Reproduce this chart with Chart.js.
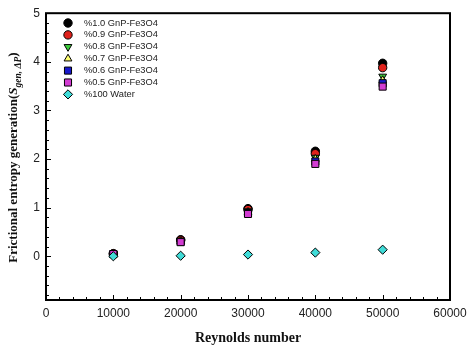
<!DOCTYPE html>
<html>
<head>
<meta charset="utf-8">
<script src="https://cdn.jsdelivr.net/npm/chart.js@4/dist/chart.umd.min.js"></script>
<style>
  html, body { margin: 0; padding: 0; background: #fff; }
  #wrap { width: 474px; height: 348px; }
</style>
</head>
<body>
<div id="wrap"><canvas id="entropyChart"></canvas></div>
<script>
// Reynolds numbers and frictional entropy generation per fluid
const reynolds = [10000, 20000, 30000, 40000, 50000];
const gnp10 = [0.055, 0.34, 0.98, 2.16, 3.97];
const gnp09 = [0.05, 0.33, 0.96, 2.11, 3.88];
const gnp08 = [0.05, 0.32, 0.93, 2.03, 3.70];
const gnp07 = [0.05, 0.31, 0.91, 2.00, 3.62];
const gnp06 = [0.045, 0.30, 0.89, 1.95, 3.56];
const gnp05 = [0.045, 0.29, 0.87, 1.90, 3.49];
const water = [0.0, 0.01, 0.035, 0.075, 0.135];

const seriesLabels = ['%1.0 GnP-Fe3O4', '%0.9 GnP-Fe3O4', '%0.8 GnP-Fe3O4', '%0.7 GnP-Fe3O4',
                      '%0.6 GnP-Fe3O4', '%0.5 GnP-Fe3O4', '%100 Water'];
const xTickLabels = [0, 10000, 20000, 30000, 40000, 50000, 60000];
const yTickLabels = [0, 1, 2, 3, 4, 5];

const allSeries = [gnp10, gnp09, gnp08, gnp07, gnp06, gnp05, water];
const styles = [
    { bg: '#000000', shape: 'circle', r: 4.2, rot: 0 },
    { bg: '#e0221c', shape: 'circle', r: 4.2, rot: 0 },
    { bg: '#3ccc3c', shape: 'triangle', r: 4.5, rot: 180 },
    { bg: '#ffff70', shape: 'triangle', r: 4.5, rot: 0 },
    { bg: '#1818cc', shape: 'rect', r: 5, rot: 0 },
    { bg: '#d23cd2', shape: 'rect', r: 5, rot: 0 },
    { bg: '#40dcd8', shape: 'rectRot', r: 4.6, rot: 0 }
];

const datasets = allSeries.map(function(vals, i) {
    return {
        label: seriesLabels[i],
        data: reynolds.map(function(x, k) { return { x: x, y: vals[k] }; }),
        backgroundColor: styles[i].bg,
        borderColor: '#000',
        borderWidth: 1,
        pointStyle: styles[i].shape,
        pointRadius: styles[i].r,
        pointRotation: styles[i].rot,
        order: allSeries.length - i  // later series drawn on top
    };
});

// frame + inward tick marks
const framePlugin = {
    id: 'frame',
    beforeDatasetsDraw(chart) {
        const ctx = chart.ctx, a = chart.chartArea;
        const xs = chart.scales.x, ys = chart.scales.y;
        ctx.save();
        ctx.strokeStyle = '#000';
        ctx.lineWidth = 1;
        xs.ticks.forEach(function(t) {
            const px = Math.round(xs.getPixelForValue(t.value)) + 0.5;
            const len = xTickLabels.includes(t.value) ? 5 : 3;
            ctx.beginPath(); ctx.moveTo(px, a.bottom); ctx.lineTo(px, a.bottom - len); ctx.stroke();
        });
        ys.ticks.forEach(function(t) {
            const py = Math.round(ys.getPixelForValue(t.value)) + 0.5;
            const len = yTickLabels.includes(t.value) ? 5 : 3;
            ctx.beginPath(); ctx.moveTo(a.left, py); ctx.lineTo(a.left + len, py); ctx.stroke();
        });
        ctx.lineWidth = 2;
        ctx.strokeRect(a.left, a.top, a.right - a.left, a.bottom - a.top);
        ctx.restore();
    }
};

// legend inside the plot, top left
const legendPlugin = {
    id: 'insideLegend',
    afterDatasetsDraw(chart) {
        const ctx = chart.ctx;
        ctx.save();
        ctx.font = '9.3px "Liberation Sans", Arial, sans-serif';
        ctx.textBaseline = 'middle';
        seriesLabels.forEach(function(lbl, i) {
            const y = 23 + i * 11.9;
            ctx.fillStyle = styles[i].bg;
            ctx.strokeStyle = '#000';
            ctx.lineWidth = 1;
            Chart.helpers.drawPoint(ctx, {
                pointStyle: styles[i].shape, radius: styles[i].r,
                rotation: styles[i].rot, borderWidth: 1
            }, 68, y);
            ctx.fillStyle = '#222';
            ctx.fillText(lbl, 84, y);
        });
        ctx.restore();
    }
};

// y title with subscript
const yTitlePlugin = {
    id: 'yTitle',
    afterDraw(chart) {
        const ctx = chart.ctx, a = chart.chartArea;
        const serif = '"Liberation Serif", "Times New Roman", serif';
        const parts = [
            { t: 'Frictional entropy generation(', f: 'bold 13px ' + serif, dy: 0 },
            { t: 'S', f: 'italic bold 13px ' + serif, dy: 0 },
            { t: 'gen, \u0394P', f: 'italic bold 9.5px ' + serif, dy: 4 },
            { t: ')', f: 'bold 13px ' + serif, dy: 0 }
        ];
        ctx.save();
        let total = 0;
        parts.forEach(function(p) { ctx.font = p.f; p.w = ctx.measureText(p.t).width; total += p.w; });
        ctx.translate(17, (a.top + a.bottom) / 2 + 1);
        ctx.rotate(-Math.PI / 2);
        ctx.fillStyle = '#111';
        ctx.textBaseline = 'alphabetic';
        let x = -total / 2;
        parts.forEach(function(p) { ctx.font = p.f; ctx.fillText(p.t, x, p.dy); x += p.w; });
        ctx.restore();
    }
};

const tickFont = { family: '"Liberation Sans", Arial, sans-serif', size: 12 };

new Chart(document.getElementById('entropyChart'), {
    type: 'scatter',
    data: { datasets: datasets },
    plugins: [framePlugin, legendPlugin, yTitlePlugin],
    options: {
        responsive: true,
        maintainAspectRatio: false,
        animation: false,
        layout: { padding: { top: 10, right: 24, left: 0, bottom: 0 } },
        plugins: { legend: { display: false }, tooltip: { enabled: false } },
        scales: {
            x: {
                type: 'linear',
                min: 0, max: 60000,
                grid: { display: false, drawTicks: false, tickLength: 0 },
                border: { display: false },
                ticks: {
                    stepSize: 2000, autoSkip: false, maxRotation: 0, padding: 6,
                    color: '#222', font: tickFont,
                    callback: function(v) { return xTickLabels.includes(v) ? String(v) : ''; }
                },
                title: {
                    display: true, text: 'Reynolds number', color: '#111',
                    font: { family: '"Liberation Serif", "Times New Roman", serif', size: 14, weight: 'bold' },
                    padding: { top: 0, bottom: 1 }
                },
                afterFit: function(s) { s.height = 48; }
            },
            y: {
                type: 'linear',
                min: -0.9, max: 5,
                grid: { display: false, drawTicks: false, tickLength: 0 },
                border: { display: false },
                afterBuildTicks: function(s) {
                    const t = [];
                    for (let k = -4; k <= 25; k++) t.push({ value: Math.round(k * 2) / 10 });
                    s.ticks = t;
                },
                ticks: {
                    autoSkip: false, padding: 6, color: '#222', font: tickFont,
                    callback: function(v) { return yTickLabels.includes(v) ? String(v) : ''; }
                },
                afterFit: function(s) { s.width = 46; }
            }
        }
    }
});
</script>
</body>
</html>
